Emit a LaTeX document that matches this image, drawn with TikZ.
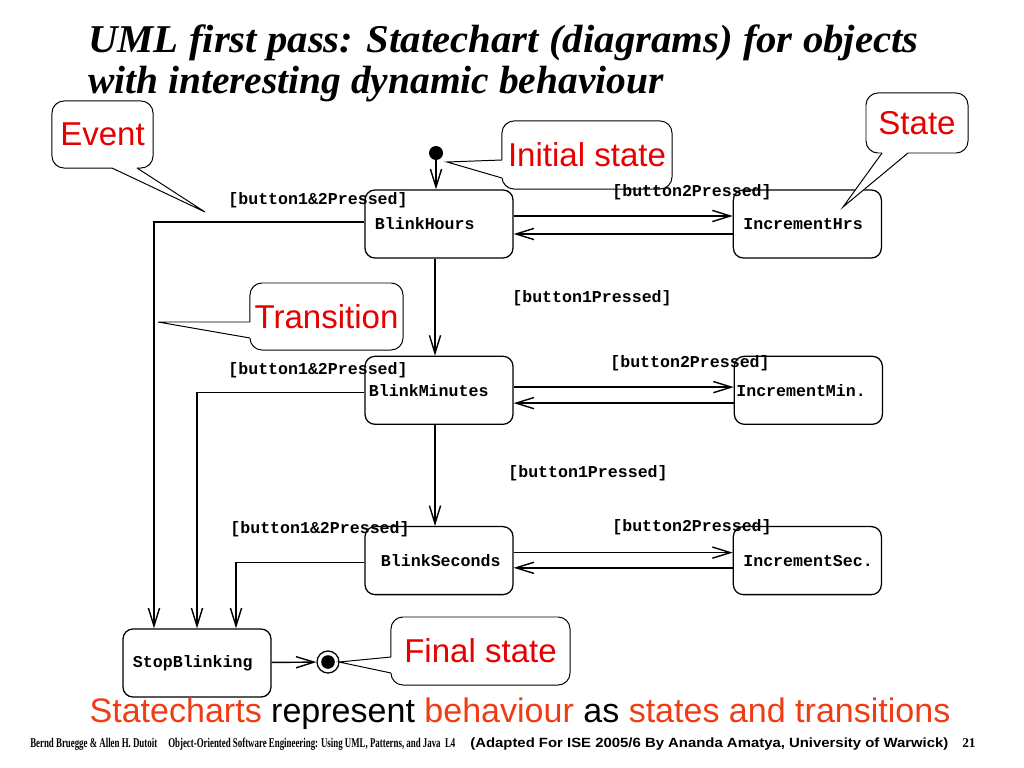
\documentclass[tikz,border=0pt]{standalone}
\usepackage{fontspec}
\setmainfont{Liberation Serif}
\setsansfont{Liberation Sans}
\setmonofont{Liberation Mono}
\usepackage{graphicx}
\usetikzlibrary{arrows.meta,positioning,calc}
\definecolor{notered}{RGB}{230,0,0}
\definecolor{textorange}{RGB}{240,60,20}
\newcommand{\statefont}{\ttfamily\bfseries\fontsize{11.8}{14}\selectfont}
\newcommand{\notefont}{\sffamily\fontsize{23.5}{28}\selectfont}
\tikzset{
    state/.style = {draw, rectangle, rounded corners=0.25cm, line width=0.9pt,
        minimum height=1.7cm, minimum width=3.7cm, text width=3.2cm,
        inner xsep=0.25cm, align=left, font=\statefont},
    guard/.style = {font=\statefont, inner sep=0pt},
    trans/.style = {draw, line width=1pt,
        -{Straight Barb[length=0.45cm,width=0.28cm,line width=1pt]}},
    note/.style = {draw, rectangle, rounded corners=0.3cm, line width=0.7pt,
        text=notered, font=\notefont, inner sep=0pt},
    pointer/.style = {draw, line width=0.7pt},
    initial/.style = {circle, fill, inner sep=0pt, minimum size=0.35cm},
    final/.style = {circle, draw, line width=0.9pt, inner sep=0pt, minimum size=0.55cm,
        path picture={\fill (path picture bounding box.center) circle (0.17cm);}}
}

\begin{document}
\begin{tikzpicture}[x=0.025cm, y=-0.025cm]
    \useasboundingbox (0,0) rectangle (1024,768);
    % title
    \node [anchor=base west, inner sep=0pt, font=\bfseries\itshape\fontsize{28}{32}\selectfont] (title1) at (88,53)
        {\resizebox{20.75cm}{\height}{UML first pass: Statechart (diagrams) for objects}};
    \node [anchor=base west, inner sep=0pt, font=\bfseries\itshape\fontsize{28}{32}\selectfont] (title2) at (88,94)
        {\resizebox{14.375cm}{\height}{with interesting dynamic behaviour}};

    % states
    \node [state] (hours) at (439,224) {BlinkHours};
    \node [state, right=5.475cm of hours] (inchrs) {IncrementHrs};
    \node [state, below=2.425cm of hours, inner xsep=0.1cm, text width=3.5cm] (mins) {BlinkMinutes};
    \node [state, right=5.5cm of mins, inner xsep=0.05cm, text width=3.6cm] (incmin) {IncrementMin.};
    \node [state, below=2.525cm of mins, inner xsep=0.4cm, text width=2.9cm] (secs) {BlinkSeconds};
    \node [state, right=5.475cm of secs] (incsec) {IncrementSec.};
    \node [state] (stop) at (197,663) {StopBlinking};
    \node [initial] (init) at (436,153) {};
    \node [final] (final) at (328,662) {};

    % transitions
    \draw [trans] (init) -- (init |- hours.north);
    \draw [trans] ([yshift=0.2cm]hours.east) -- ([yshift=0.2cm]hours.east -| inchrs.west);
    \draw [trans] ([yshift=-0.25cm]hours.east -| inchrs.west) -- ([yshift=-0.25cm]hours.east);
    \draw [trans] ([xshift=-0.1cm]hours.south) -- ([xshift=-0.1cm]mins.north);
    \draw [trans] ([yshift=0.08cm]mins.east) -- ([yshift=0.08cm]mins.east -| incmin.west);
    \draw [trans] ([yshift=-0.32cm]mins.east -| incmin.west) -- ([yshift=-0.32cm]mins.east);
    \draw [trans] ([xshift=-0.1cm]mins.south) -- ([xshift=-0.1cm]secs.north);
    \draw [trans] ([yshift=0.2cm]secs.east) -- ([yshift=0.2cm]secs.east -| incsec.west);
    \draw [trans] ([yshift=-0.18cm]secs.east -| incsec.west) -- ([yshift=-0.18cm]secs.east);
    \draw [trans] ([yshift=0.05cm]hours.west) -| ([xshift=-1.075cm]stop.north);
    \draw [trans] ([yshift=-0.05cm]mins.west) -| (stop.north);
    \draw [trans] ([yshift=-0.05cm]secs.west) -| ([xshift=0.975cm]stop.north);
    \draw [trans] (stop) -- (final);

    % guards
    \node [guard] (g1) at (318,200) {[button1\&2Pressed]};
    \node [guard] (g2) at (318,370) {[button1\&2Pressed]};
    \node [guard] (g3) at (320,529) {[button1\&2Pressed]};
    \node [guard] (g4) at (692,192) {[button2Pressed]};
    \node [guard] (g5) at (690,363) {[button2Pressed]};
    \node [guard] (g6) at (692,527) {[button2Pressed]};
    \node [guard] (g7) at (592,298) {[button1Pressed]};
    \node [guard] (g8) at (588,473) {[button1Pressed]};

    % callouts
    \node [note, minimum width=2.525cm, minimum height=1.675cm] (event) at (102.5,134.5) {Event};
    \coordinate (eventtip) at (205,212);
    \fill [white] (112,166) -- (112,168) -- (eventtip) -- (137,168) -- (137,166) -- cycle;
    \draw [pointer] (112,168) -- (eventtip) -- (137,168);

    \node [note, minimum width=4.25cm, minimum height=1.7cm] (initnote) at (587,155) {Initial state};
    \coordinate (inittip) at (447,162);
    \fill [white] (504,160) -- (502,160) -- (inittip) -- (502,178) -- (504,178) -- cycle;
    \draw [pointer] (502,160) -- (inittip) -- (502,178);

    \node [note, minimum width=2.55cm, minimum height=1.5cm] (statenote) at (917,123) {State};
    \coordinate (statetip) at (843,207);
    \fill [white] (882,151) -- (882,153) -- (statetip) -- (908,153) -- (908,151) -- cycle;
    \draw [pointer] (882,153) -- (statetip) -- (908,153);

    \node [note, minimum width=3.825cm, minimum height=1.675cm] (transnote) at (326.5,316.5) {Transition};
    \coordinate (transtip) at (158,322);
    \fill [white] (252,322) -- (250,322) -- (transtip) -- (250,338) -- (252,338) -- cycle;
    \draw [pointer] (250,322) -- (transtip) -- (250,338);

    \node [note, minimum width=4.475cm, minimum height=1.7cm] (finalnote) at (480.5,651) {Final state};
    \coordinate (finaltip) at (339,662);
    \fill [white] (393,657) -- (391,657) -- (finaltip) -- (391,673) -- (393,673) -- cycle;
    \draw [pointer] (391,657) -- (finaltip) -- (391,673);

    % summary and footer
    \node [anchor=base, inner sep=0pt, font=\sffamily\fontsize{24.2}{28}\selectfont] (summary) at (520,722)
        {\textcolor{textorange}{Statecharts} represent \textcolor{textorange}{behaviour} as \textcolor{textorange}{states and transitions}};
    \node [anchor=base west, inner sep=0pt, font=\bfseries\fontsize{9.5}{11}\selectfont] (foot1) at (30,747)
        {\resizebox{10.625cm}{\height}{Bernd Bruegge \& Allen H. Dutoit\quad\ Object-Oriented Software Engineering: Using UML, Patterns, and Java\ \ L4}};
    \node [anchor=base west, inner sep=0pt, font=\sffamily\bfseries\fontsize{9.5}{11}\selectfont] (foot2) at (470,747)
        {\resizebox{11.95cm}{\height}{(Adapted For ISE 2005/6 By Ananda Amatya, University of Warwick)}};
    \node [anchor=base west, inner sep=0pt, font=\bfseries\fontsize{9.5}{11}\selectfont] (page) at (962,747) {21};
\end{tikzpicture}
\end{document}
